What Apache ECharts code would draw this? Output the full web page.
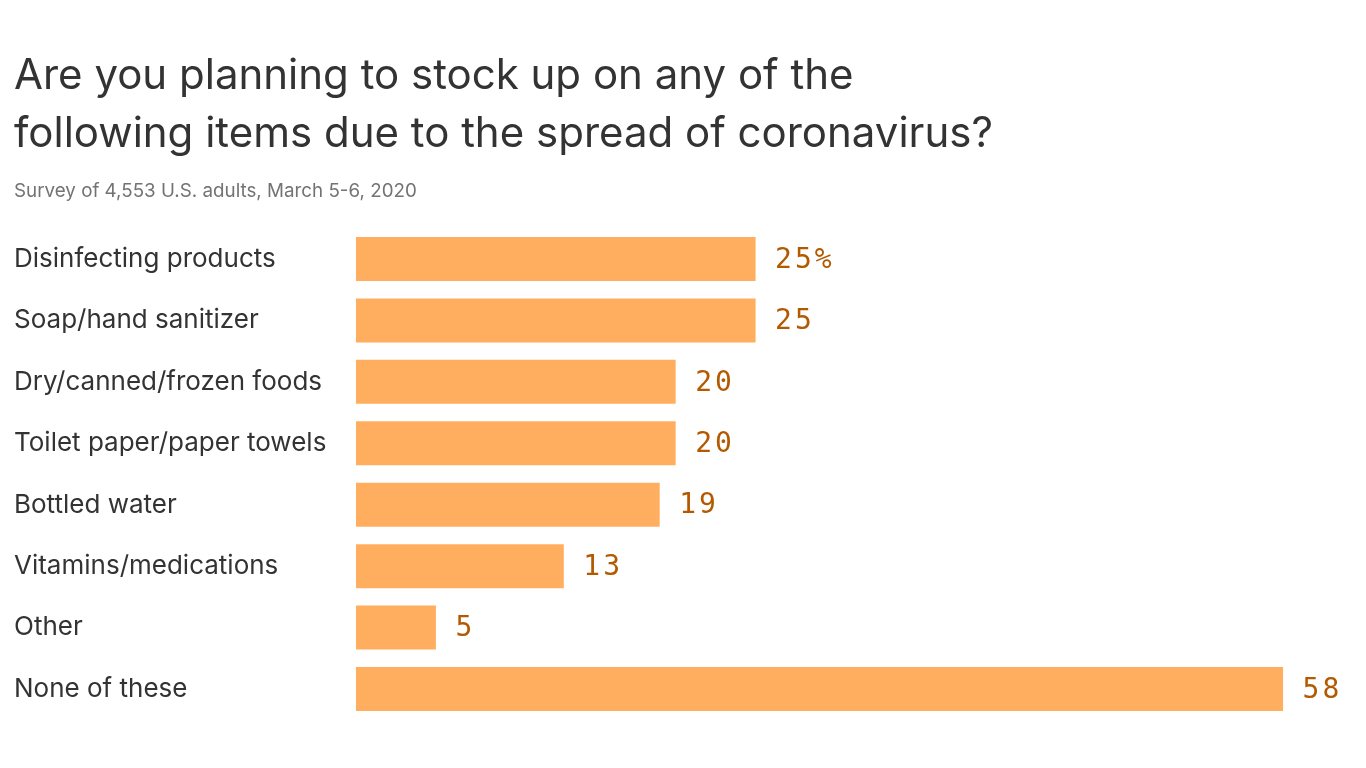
<!DOCTYPE html>
<html><head><meta charset="utf-8">
<script src="https://cdn.jsdelivr.net/npm/echarts@6/dist/echarts.min.js"></script>
<style>html,body{margin:0;padding:0;background:#fff}#c{width:1366px;height:768px}</style>
</head><body><div id="c"></div>
<script>
const categories = ["Disinfecting products","Soap/hand sanitizer","Dry/canned/frozen foods","Toilet paper/paper towels","Bottled water","Vitamins/medications","Other","None of these"];
const values = [25,25,20,20,19,13,5,58];
const valueLabels = ["25%","25","20","20","19","13","5","58"];

const chart = echarts.init(document.getElementById('c'));
chart.setOption({
  animation:false,
  backgroundColor:'#fff',
  title:[
    {text:'Are you planning to stock up on any of the\nfollowing items due to the spread of coronavirus?',left:14,top:47,padding:0,
     textStyle:{fontFamily:'Inter',fontSize:42,fontWeight:400,color:'#333',lineHeight:58}},
    {text:'Survey of 4,553 U.S. adults, March 5-6, 2020',left:14,top:182,padding:0,
     textStyle:{fontFamily:'Inter',fontSize:18.8,fontWeight:400,color:'#737373'}}
  ],
  grid:{left:356,right:51,top:228.3,bottom:48.3,containLabel:false},
  xAxis:{type:'value',min:0,max:60,show:false},
  yAxis:{type:'category',data:categories,inverse:true,
    axisLine:{show:false},axisTick:{show:false},
    axisLabel:{align:'left',margin:342,fontFamily:'Inter',fontSize:26,color:'#333',padding:[8,0,0,0]}},
  series:[{type:'bar',data:values,barWidth:44,itemStyle:{color:'#ffae5f'},
    label:{show:true,position:'right',distance:18,
      formatter:p=>valueLabels[p.dataIndex].split('').map(ch=>'{c|'+ch+'}').join(''),
      rich:{c:{fontFamily:'DejaVu Sans Mono',fontSize:28,color:'#b35a00',padding:[3,1.5,0,1.5]}}}}]
});
</script></body></html>
